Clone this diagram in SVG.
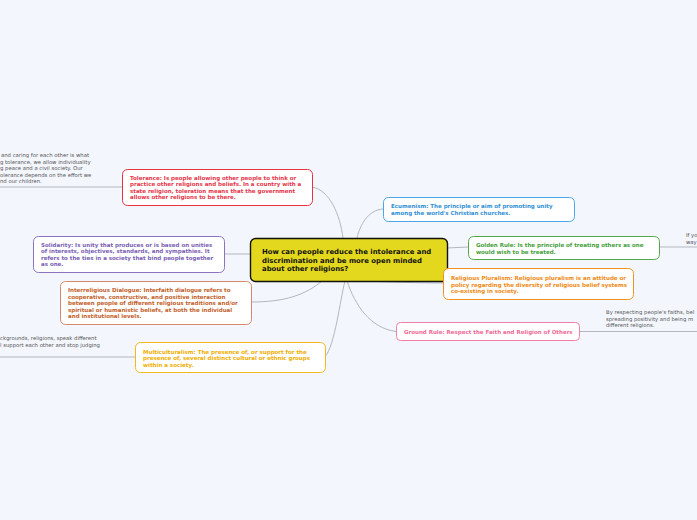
<svg xmlns="http://www.w3.org/2000/svg" width="697" height="520" viewBox="0 0 697 520">
<style>
.bg{fill:#f3f6fd}
.box{fill:#ffffff;stroke-width:1}
.t{font-family:"DejaVu Sans",Verdana,sans-serif;font-weight:bold;font-size:5.5px}
.c{font-family:"DejaVu Sans",Verdana,sans-serif;font-weight:bold;font-size:6.9px;fill:#111}
.n{font-family:"DejaVu Sans",Verdana,sans-serif;font-size:5.3px;fill:#555}
.ln{fill:none;stroke:#b4b7bf;stroke-width:1}
</style>
<rect class="bg" x="0" y="0" width="697" height="520"/>
<g id="connectors">
<path class="ln" d="M0,187 L122,187"/>
<path class="ln" d="M312,187 C330,190 340,215 343,238"/>
<path class="ln" d="M383,209 C368,210 360,225 357,238"/>
<path class="ln" d="M224,254 L250,254"/>
<path class="ln" d="M251,302 C285,302 305,295 322,281"/>
<path class="ln" d="M0,357 L135,357"/>
<path class="ln" d="M325,357 C335,345 340,300 345,281"/>
<path class="ln" d="M447,248 L468,247"/>
<path class="ln" d="M659,247 L697,247"/>
<path class="ln" d="M360,281 C390,282 420,283 443,283"/>
<path class="ln" d="M347,281 C355,305 370,328 396,331.5"/>
<path class="ln" d="M579,331.5 L697,331.5"/>
</g>
<g id="center">
<rect x="250.5" y="238.5" width="197" height="43" rx="5" fill="#e3d81d" stroke="#111" stroke-width="1.4"/>
<text class="c"><tspan x="262" y="254">How can people reduce the intolerance and</tspan><tspan x="262" y="262.5">discrimination and be more open minded</tspan><tspan x="262" y="271">about other religions?</tspan></text>
</g>
<g id="tolerance-note">
<text class="n"><tspan x="1" y="157">and caring for each other is what</tspan><tspan x="0" y="163.5">g tolerance, we allow individuality</tspan><tspan x="0" y="170">g peace and a civil society. Our</tspan><tspan x="0" y="176.5">olerance depends on the effort we</tspan><tspan x="0" y="183">nd our children.</tspan></text>
</g>
<g id="tolerance">
<rect class="box" x="122.5" y="169.5" width="190" height="36" rx="5" stroke="#e8323f"/>
<text class="t" fill="#e5354a"><tspan x="130" y="179.5">Tolerance: Is people allowing other people to think or</tspan><tspan x="130" y="186">practice other religions and beliefs. In a country with a</tspan><tspan x="130" y="192.5">state religion, toleration means that the government</tspan><tspan x="130" y="199">allows other religions to be there.</tspan></text>
</g>
<g id="ecumenism">
<rect class="box" x="383.5" y="197.5" width="191" height="24" rx="5" stroke="#4aa6ea"/>
<text class="t" fill="#2f8fd6"><tspan x="391" y="207.5">Ecumenism: The principle or aim of promoting unity</tspan><tspan x="391" y="214.5">among the world's Christian churches.</tspan></text>
</g>
<g id="solidarity">
<rect class="box" x="33.5" y="236.5" width="191" height="36" rx="5" stroke="#8b72c2"/>
<text class="t" fill="#7a5eb2"><tspan x="41" y="246.5">Solidarity: Is unity that produces or is based on unities</tspan><tspan x="41" y="253">of interests, objectives, standards, and sympathies. It</tspan><tspan x="41" y="259.5">refers to the ties in a society that bind people together</tspan><tspan x="41" y="266">as one.</tspan></text>
</g>
<g id="golden-rule">
<rect class="box" x="468.5" y="236.5" width="191" height="23" rx="5" stroke="#52a84a"/>
<text class="t" fill="#45a03c"><tspan x="476" y="246.5">Golden Rule: Is the principle of treating others as one</tspan><tspan x="476" y="253.5">would wish to be treated.</tspan></text>
</g>
<g id="golden-note">
<text class="n"><tspan x="686" y="236.5">If yo</tspan><tspan x="686" y="243.5">way</tspan></text>
</g>
<g id="interreligious">
<rect class="box" x="60.5" y="281.5" width="191" height="43" rx="5" stroke="#d48a6a"/>
<text class="t" fill="#c2602a"><tspan x="68" y="292">Interreligious Dialogue: Interfaith dialogue refers to</tspan><tspan x="68" y="298.5">cooperative, constructive, and positive interaction</tspan><tspan x="68" y="305">between people of different religious traditions and/or</tspan><tspan x="68" y="311.5">spiritual or humanistic beliefs, at both the individual</tspan><tspan x="68" y="318">and institutional levels.</tspan></text>
</g>
<g id="pluralism">
<rect class="box" x="443.5" y="268.5" width="190" height="31" rx="5" stroke="#f2921e"/>
<text class="t" fill="#ef8a14"><tspan x="451" y="280">Religious Pluralism: Religious pluralism is an attitude or</tspan><tspan x="451" y="286.5">policy regarding the diversity of religious belief systems</tspan><tspan x="451" y="293">co-existing in society.</tspan></text>
</g>
<g id="ground-rule">
<rect class="box" x="396.5" y="322.5" width="183" height="18" rx="4" stroke="#f07ea6"/>
<text class="t" fill="#ee6a98"><tspan x="404" y="333.5">Ground Rule: Respect the Faith and Religion of Others</tspan></text>
</g>
<g id="ground-note">
<text class="n"><tspan x="606" y="314">By respecting people's faiths, bel</tspan><tspan x="606" y="320.5">spreading positivity and being m</tspan><tspan x="606" y="327">different religions.</tspan></text>
</g>
<g id="multi-note">
<text class="n"><tspan x="0" y="340">ckgrounds, religions, speak different</tspan><tspan x="0" y="346.5">l support each other and stop judging</tspan></text>
</g>
<g id="multiculturalism">
<rect class="box" x="135.5" y="342.5" width="190" height="30" rx="5" stroke="#f4b81a"/>
<text class="t" fill="#f0ae00"><tspan x="143" y="353.5">Multiculturalism: The presence of, or support for the</tspan><tspan x="143" y="360">presence of, several distinct cultural or ethnic groups</tspan><tspan x="143" y="366.5">within a society.</tspan></text>
</g>
</svg>
